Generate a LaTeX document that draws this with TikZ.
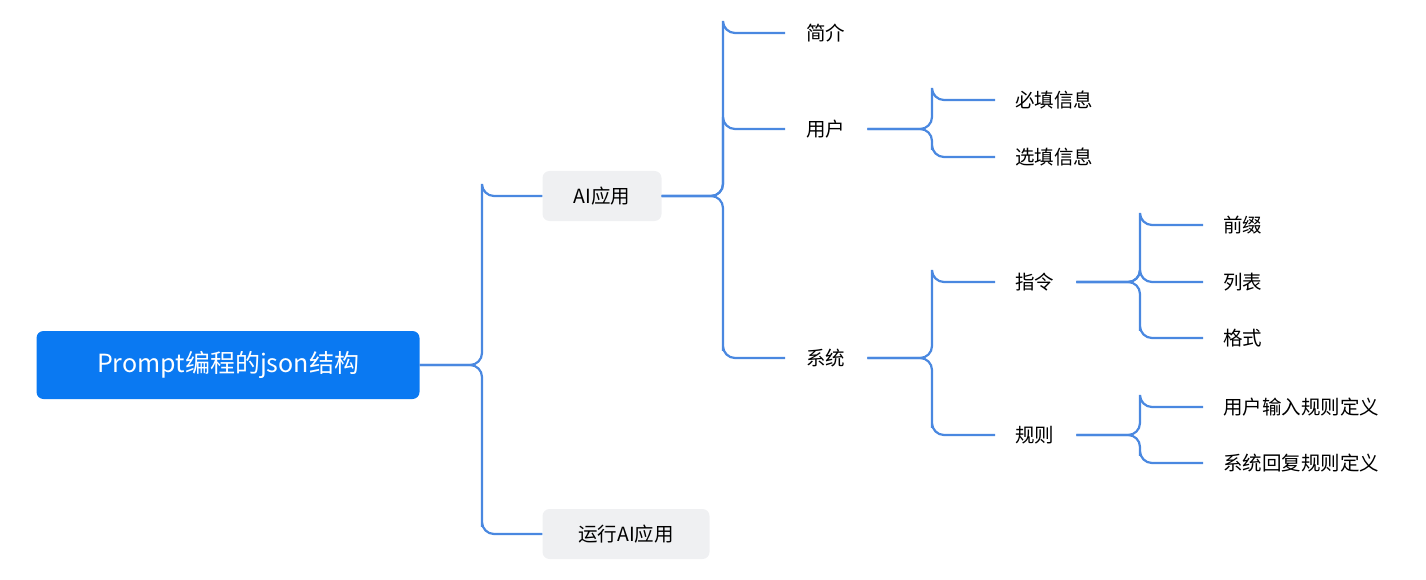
\documentclass[tikz,border=0pt]{standalone}
\usepackage{fontspec}
\setmainfont{Noto Sans CJK SC}
\definecolor{lc}{HTML}{4A88E0}
\definecolor{rootc}{HTML}{0A79F2}
\definecolor{boxc}{HTML}{EFF0F2}
\begin{document}
\begin{tikzpicture}[x=1pt,y=-1pt,
  lnk/.style={draw=lc,line width=2.2pt,rounded corners=12pt},
  leaf/.style={anchor=west,inner sep=0pt,font=\fontsize{19.5}{24}\selectfont},
  sub/.style={fill=boxc,rounded corners=7pt,minimum height=50pt,font=\fontsize{19.5}{24}\selectfont,inner xsep=0pt}]
\useasboundingbox (0,0) rectangle (1426,580);
\node[fill=rootc,rounded corners=7pt,minimum width=383pt,minimum height=68pt,text=white,font=\fontsize{25}{30}\selectfont] (root) at (228,365) {Prompt编程的json结构};
\node[sub,minimum width=119pt] (ai) at (602,196) {AI应用};
\node[sub,minimum width=167pt] (run) at (626,534) {运行AI应用};
\node[leaf] (jj) at (806,33) {简介};
\node[leaf] (yh) at (806,129) {用户};
\node[leaf] (xt) at (806,358) {系统};
\node[leaf] (bt) at (1015,100) {必填信息};
\node[leaf] (xx) at (1015,157) {选填信息};
\node[leaf] (zl) at (1015,282) {指令};
\node[leaf] (gz) at (1015,435) {规则};
\node[leaf] (qz) at (1223,225) {前缀};
\node[leaf] (lb) at (1223,282) {列表};
\node[leaf] (gs) at (1223,338) {格式};
\node[leaf] (yr) at (1223,407) {用户输入规则定义};
\node[leaf] (xh) at (1223,463) {系统回复规则定义};
\coordinate (a1) at (482,0);
\coordinate (a2) at (723,0);
\coordinate (a3) at (932,0);
\coordinate (a4) at (1140,0);
\draw[lnk] (root.east) -| (a1|-ai) |- (ai.west);
\draw[lnk] (root.east) -| (a1|-run) |- (run.west);
\foreach \t in {jj,yh,xt} \draw[lnk] (ai.east) -| (a2|-\t) |- ([xshift=-21pt]\t.west);
\foreach \t in {bt,xx} \draw[lnk] ([xshift=22pt]yh.east) -| (a3|-\t) |- ([xshift=-20pt]\t.west);
\foreach \t in {zl,gz} \draw[lnk] ([xshift=22pt]xt.east) -| (a3|-\t) |- ([xshift=-20pt]\t.west);
\foreach \t in {qz,lb,gs} \draw[lnk] ([xshift=22pt]zl.east) -| (a4|-\t) |- ([xshift=-20pt]\t.west);
\foreach \t in {yr,xh} \draw[lnk] ([xshift=22pt]gz.east) -| (a4|-\t) |- ([xshift=-20pt]\t.west);
\end{tikzpicture}
\end{document}
